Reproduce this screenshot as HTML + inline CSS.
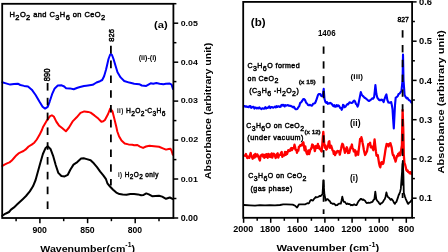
<!DOCTYPE html><html><head><meta charset="utf-8"><style>
html,body{margin:0;padding:0;background:#fff;width:448px;height:252px;overflow:hidden}
svg{display:block}
text{font-family:"Liberation Sans",Arial,sans-serif;fill:#000}
</style></head><body>
<svg width="448" height="252" viewBox="0 0 448 252">
<rect width="448" height="252" fill="#fff"/>
<g fill="none" stroke-width="2" stroke-linejoin="round" stroke-linecap="round">
<polyline stroke="#0000ff" points="2.3,82.3 5.1,83.1 10.2,84.6 14.0,84.0 17.8,83.7 20.3,85.0 24.1,85.9 28.0,86.5 31.8,89.7 35.6,95.0 39.4,101.5 42.6,106.7 45.1,108.6 47.7,106.9 49.6,101.8 52.1,94.2 54.7,88.4 57.8,85.5 61.7,85.3 64.2,86.5 66.1,88.2 69.9,88.4 73.7,89.3 77.5,87.8 80.0,87.0 84.0,86.0 86.3,85.7 92.7,84.8 96.5,82.5 100.0,81.2 102.2,80.0 104.1,76.2 106.0,69.8 106.9,66.0 108.5,59.0 110.0,55.0 110.9,54.0 112.0,55.0 113.5,59.0 115.6,66.0 117.5,72.3 120.6,77.4 124.2,81.0 129.3,82.6 134.2,83.7 139.2,84.2 141.8,85.5 146.2,85.9 150.7,83.3 153.2,83.7 156.4,83.0 159.6,83.7 163.4,84.2 165.9,83.7 169.7,83.5 171.6,84.6 173.0,89.0"/>
<polyline stroke="#ff0000" points="2.3,166.0 4.5,164.6 7.0,163.4 9.5,162.4 11.5,160.8 14.0,158.0 16.5,155.2 18.5,153.4 21.0,152.2 23.5,151.0 25.4,149.7 28.6,146.5 31.7,144.6 34.3,142.7 36.8,139.5 39.4,135.1 41.9,130.0 43.2,126.7 47.0,120.3 50.0,116.1 51.9,115.3 53.8,116.5 56.3,121.6 58.9,125.4 62.1,128.1 65.9,131.3 69.0,127.5 72.9,121.1 76.7,117.3 80.5,112.9 84.3,111.4 88.1,111.9 90.6,112.6 94.4,115.4 98.3,118.6 101.4,121.8 103.3,121.3 104.9,120.0 108.1,114.0 110.2,108.6 112.5,111.4 114.4,119.0 116.3,126.7 117.3,131.5 119.0,136.2 121.5,140.6 124.7,143.5 128.5,144.4 132.3,144.8 134.2,145.3 137.4,145.0 139.9,146.6 143.1,147.9 146.0,146.5 149.5,145.8 154.0,146.2 159.0,146.8 162.9,148.4 166.0,149.6 168.6,149.0 170.5,148.8 171.7,151.0 172.8,154.8"/>
<polyline stroke="#000" points="2.3,215.8 4.5,214.2 7.0,213.0 9.0,212.0 11.0,209.6 14.0,207.4 17.0,204.6 20.0,201.7 23.0,198.9 26.0,196.0 29.8,191.4 33.0,186.3 35.6,180.0 37.8,172.0 40.3,162.9 42.9,154.0 45.4,148.3 47.7,146.3 50.5,148.9 53.1,155.8 55.7,165.0 58.3,172.9 61.4,176.0 64.6,176.4 67.8,174.8 70.3,169.7 73.5,164.6 77.3,162.1 81.1,158.6 83.7,158.3 86.8,159.1 90.6,160.2 93.8,163.3 97.0,167.1 100.2,171.6 103.3,175.4 106.0,179.2 107.4,183.3 110.0,186.5 113.1,189.7 116.3,192.6 119.5,194.1 122.7,194.5 126.5,194.8 130.3,194.1 134.1,194.1 137.9,194.4 141.1,195.3 143.6,194.9 146.3,193.4 148.9,194.4 152.1,196.2 159.0,195.7 162.2,196.6 166.0,198.8 169.8,197.5 173.0,199.1"/>
</g>
<g stroke="#000" stroke-width="1.8">
<line x1="47.6" y1="83.0" x2="47.6" y2="90.6"/><line x1="47.6" y1="97.8" x2="47.6" y2="105.4"/><line x1="47.6" y1="112.6" x2="47.6" y2="120.2"/><line x1="47.6" y1="127.4" x2="47.6" y2="135.0"/><line x1="47.6" y1="142.2" x2="47.6" y2="149.8"/><line x1="47.6" y1="157.0" x2="47.6" y2="164.6"/><line x1="47.6" y1="171.8" x2="47.6" y2="179.4"/><line x1="47.6" y1="186.6" x2="47.6" y2="194.2"/><line x1="47.6" y1="201.4" x2="47.6" y2="209.0"/>
<line x1="110.9" y1="45.8" x2="110.9" y2="53.4"/><line x1="110.9" y1="60.6" x2="110.9" y2="68.2"/><line x1="110.9" y1="75.4" x2="110.9" y2="83.0"/><line x1="110.9" y1="90.2" x2="110.9" y2="97.8"/><line x1="110.9" y1="105.0" x2="110.9" y2="112.6"/><line x1="110.9" y1="119.8" x2="110.9" y2="127.4"/><line x1="110.9" y1="134.6" x2="110.9" y2="142.2"/><line x1="110.9" y1="149.4" x2="110.9" y2="157.0"/><line x1="110.9" y1="164.2" x2="110.9" y2="171.8"/><line x1="110.9" y1="179.0" x2="110.9" y2="185.5"/>
</g>
<g stroke="#000" stroke-width="1.8" fill="none">
<rect x="2.2" y="3.8" width="171.2" height="214.2"/>
<line x1="16.1" y1="218.0" x2="16.1" y2="221.2" stroke-width="1.5"/>
<line x1="39.9" y1="218.0" x2="39.9" y2="223.2" stroke-width="1.5"/>
<line x1="63.7" y1="218.0" x2="63.7" y2="221.2" stroke-width="1.5"/>
<line x1="87.6" y1="218.0" x2="87.6" y2="223.2" stroke-width="1.5"/>
<line x1="111.4" y1="218.0" x2="111.4" y2="221.2" stroke-width="1.5"/>
<line x1="135.2" y1="218.0" x2="135.2" y2="223.2" stroke-width="1.5"/>
<line x1="159.0" y1="218.0" x2="159.0" y2="221.2" stroke-width="1.5"/>
<line x1="173.4" y1="218.0" x2="178.2" y2="218.0" stroke-width="1.5"/>
<line x1="173.4" y1="198.5" x2="176.4" y2="198.5" stroke-width="1.5"/>
<line x1="173.4" y1="179.0" x2="178.2" y2="179.0" stroke-width="1.5"/>
<line x1="173.4" y1="159.6" x2="176.4" y2="159.6" stroke-width="1.5"/>
<line x1="173.4" y1="140.1" x2="178.2" y2="140.1" stroke-width="1.5"/>
<line x1="173.4" y1="120.6" x2="176.4" y2="120.6" stroke-width="1.5"/>
<line x1="173.4" y1="101.1" x2="178.2" y2="101.1" stroke-width="1.5"/>
<line x1="173.4" y1="81.6" x2="176.4" y2="81.6" stroke-width="1.5"/>
<line x1="173.4" y1="62.2" x2="178.2" y2="62.2" stroke-width="1.5"/>
<line x1="173.4" y1="42.7" x2="176.4" y2="42.7" stroke-width="1.5"/>
<line x1="173.4" y1="23.2" x2="178.2" y2="23.2" stroke-width="1.5"/>
<line x1="173.4" y1="3.7" x2="176.4" y2="3.7" stroke-width="1.5"/>
</g>
<g fill="none" stroke-width="1.8" stroke-linejoin="round" stroke-linecap="round">
<polyline stroke="#0000ff" stroke-width="2.1" points="244.0,106.5 244.8,106.0 245.6,106.7 246.4,106.4 247.2,107.0 248.0,106.8 248.8,107.2 249.6,106.0 250.4,106.0 251.2,107.9 252.0,107.3 252.8,106.8 253.6,106.8 254.4,108.6 255.2,107.5 256.0,107.6 256.8,108.5 257.6,107.8 258.4,108.3 259.2,107.3 260.0,108.2 260.8,108.5 261.5,109.1 262.2,108.4 263.0,108.4 263.8,108.8 264.6,108.5 265.4,107.1 266.2,108.5 267.0,107.8 267.8,107.9 268.6,107.1 269.4,106.4 270.2,108.1 271.0,107.2 271.8,107.0 272.6,107.4 273.4,107.7 274.2,107.2 275.0,106.6 275.8,107.4 276.6,106.2 277.4,107.0 278.2,106.2 279.0,106.2 279.8,107.0 280.6,106.8 281.4,105.0 282.2,104.9 283.0,105.6 283.8,104.9 284.7,106.5 285.5,105.2 286.4,105.6 287.2,105.2 287.9,105.0 288.6,105.6 289.3,105.5 290.0,106.0 290.8,105.8 291.5,106.5 292.3,106.6 293.0,107.4 293.8,106.7 294.6,107.9 295.5,109.3 296.3,109.2 297.3,109.0 298.3,107.3 299.2,106.2 300.2,102.9 301.1,102.3 302.1,101.0 303.1,99.3 304.0,99.0 305.2,100.3 306.1,102.7 307.1,103.5 308.0,105.0 308.8,105.3 309.7,104.8 310.5,105.2 311.4,105.7 312.2,105.4 313.1,103.8 314.1,103.5 315.1,103.0 316.0,101.0 316.9,98.3 317.9,95.2 318.7,94.1 319.5,94.0 320.3,94.0 321.1,95.9 322.0,96.3 322.8,95.2 323.7,88.9 324.5,99.0 325.4,102.0 326.2,102.9 327.0,102.1 327.8,103.9 328.6,103.2 329.4,103.5 330.2,102.9 331.1,103.4 331.9,104.1 332.7,105.3 333.5,106.2 334.3,105.0 335.1,106.7 335.9,106.6 336.7,105.0 337.5,106.2 338.3,105.4 339.1,105.9 340.0,107.9 340.8,107.9 341.7,109.8 342.4,108.4 343.0,104.8 343.8,105.4 344.7,107.2 345.5,106.7 346.3,105.5 347.1,104.2 347.9,104.5 348.7,103.5 349.5,102.3 350.2,102.5 351.0,102.8 351.7,103.0 352.5,102.6 353.3,101.4 354.2,100.7 355.0,101.3 355.9,103.9 356.7,104.5 357.6,106.7 358.2,105.2 358.9,101.6 359.9,96.8 360.8,92.1 361.8,94.9 362.7,95.9 363.6,96.6 364.6,97.8 365.6,98.3 366.5,99.0 367.3,99.7 368.2,100.6 369.0,101.0 369.8,100.6 370.6,99.8 371.4,99.3 372.2,98.4 373.1,98.7 374.1,97.1 374.8,91.1 375.4,85.1 376.4,94.0 377.3,97.6 378.2,98.9 379.2,100.2 380.0,99.8 380.9,100.2 381.7,99.5 382.6,100.2 383.6,102.1 384.6,98.8 385.5,96.3 386.4,94.4 387.4,100.2 388.4,102.5 389.3,102.7 390.2,102.4 391.2,102.1 391.9,105.5 392.5,109.0 393.1,118.8 393.8,128.5 395.0,105.2 395.7,97.6 396.6,97.1 397.6,96.3 398.6,94.0 399.5,93.8 400.4,92.4 401.4,91.3 402.0,85.7 402.6,80.0 403.0,54.5 403.5,80.0 404.6,95.1 405.6,96.9 406.5,98.3 407.4,97.8 408.4,99.5 409.4,100.4 410.3,100.8 411.0,102.0 411.6,102.7"/>
<polyline stroke="#ff0000" stroke-width="2.3" points="244.0,155.5 244.7,155.7 245.3,155.9 246.0,154.0 246.7,156.5 247.3,158.1 248.0,156.5 248.7,157.3 249.3,157.9 250.0,155.0 250.7,153.0 251.3,156.1 252.0,157.0 252.7,158.8 253.3,156.5 254.0,155.0 254.7,157.7 255.3,153.8 256.0,156.5 256.7,156.0 257.3,154.4 258.0,155.5 258.6,157.4 259.3,159.2 259.9,160.5 260.7,155.3 261.5,155.5 262.2,154.4 263.0,156.5 263.7,154.8 264.3,157.8 265.0,155.0 265.7,157.0 266.3,154.1 267.0,156.5 267.7,157.8 268.3,153.8 269.0,155.5 269.7,156.7 270.3,154.4 271.0,157.0 271.7,153.5 272.3,157.7 273.0,155.0 273.7,153.7 274.3,154.1 275.0,156.0 275.7,158.0 276.3,156.8 277.0,154.0 277.7,153.3 278.3,157.6 279.0,155.5 279.7,154.9 280.3,154.8 281.0,153.0 281.7,152.0 282.3,156.8 283.0,155.0 283.7,155.1 284.3,155.6 285.0,152.0 285.7,154.9 286.3,152.2 287.0,154.0 287.7,152.2 288.3,150.1 289.0,151.0 290.0,150.9 290.6,148.7 291.3,148.0 291.9,150.2 292.5,148.1 293.2,148.3 293.8,148.4 294.5,144.7 295.1,147.0 295.7,149.9 296.4,150.0 297.0,152.8 297.6,149.8 298.3,150.7 298.9,147.0 299.5,146.5 300.2,145.2 300.8,145.8 301.4,144.8 302.1,145.2 302.7,143.2 303.4,142.3 304.0,146.4 304.6,150.3 305.3,146.3 305.9,150.2 306.5,152.7 307.2,154.3 307.8,153.4 308.4,150.3 309.1,154.1 309.7,152.1 310.3,149.7 311.0,149.1 311.6,147.0 312.2,144.5 312.9,144.9 313.5,147.7 314.1,146.3 314.8,151.1 315.4,149.0 316.0,146.0 316.6,147.9 317.3,147.6 317.9,143.9 318.5,148.1 319.2,146.4 319.8,149.0 320.4,149.0 321.1,150.8 321.7,151.5 322.5,141.7 323.3,131.8 324.3,144.5 324.9,147.7 325.6,145.7 326.2,149.6 326.8,149.1 327.4,147.5 328.1,145.9 328.7,142.0 329.3,141.1 330.0,147.8 330.6,147.0 331.2,145.7 331.9,148.1 332.6,150.5 333.2,150.9 333.8,153.9 334.4,151.3 335.1,155.2 335.7,153.4 336.4,153.2 337.0,151.4 337.6,150.9 338.3,151.5 339.1,151.3 339.8,154.7 340.4,151.7 341.1,148.8 341.7,145.8 342.3,143.8 343.0,144.6 343.6,147.0 344.2,149.6 344.9,152.8 345.5,151.5 346.1,148.8 346.8,147.3 347.4,149.0 348.0,153.0 348.7,151.7 349.3,152.8 349.9,150.2 350.6,147.2 351.2,147.1 351.9,144.5 352.5,148.7 353.2,148.9 353.8,151.5 354.4,151.7 355.1,150.3 355.7,155.7 356.3,154.0 356.9,151.6 357.6,154.4 358.2,154.7 358.8,149.4 359.5,144.1 360.1,138.8 360.7,140.9 361.4,137.2 362.0,139.5 362.6,142.9 363.3,146.4 363.8,149.5 364.4,152.3 365.1,155.0 365.7,154.0 366.3,152.6 367.0,151.3 367.6,147.6 368.2,144.1 368.9,144.7 369.5,143.8 370.1,142.7 370.8,147.4 371.4,146.3 372.0,146.5 372.7,148.6 373.3,150.2 374.0,144.8 374.6,139.5 375.2,145.4 375.9,151.4 376.5,155.5 377.2,155.9 377.8,155.2 378.4,159.1 379.0,162.9 379.7,166.0 380.3,167.4 381.0,163.2 381.6,162.2 382.2,162.4 382.9,164.0 383.5,162.9 384.1,158.7 384.8,154.4 385.4,150.2 386.0,147.0 386.7,143.8 387.3,144.5 388.0,144.3 388.6,146.3 389.2,144.5 389.8,143.8 390.4,143.1 391.1,145.6 391.7,147.6 392.4,152.9 393.0,155.2 393.7,155.2 394.3,158.0 395.0,159.5 395.6,161.6 396.2,159.0 396.9,155.9 397.5,156.5 398.1,154.0 398.8,155.5 399.4,152.7 400.0,155.4 400.6,154.0 401.2,149.6 401.9,145.1 402.6,110.0 403.3,130.0 403.8,155.2 404.4,162.9 405.0,164.2 405.7,167.0 406.3,169.8 407.0,170.9 407.6,170.5 408.2,172.0 408.9,172.2 409.5,173.2 410.1,172.1 410.8,172.3 411.4,174.0"/>
<polyline stroke="#000" points="244.0,205.0 250.0,205.3 255.0,205.6 260.0,205.1 265.0,205.4 270.0,205.2 275.0,205.3 280.0,205.0 283.2,204.3 286.3,204.3 292.7,204.6 295.2,205.8 297.1,207.5 299.0,204.3 305.4,204.3 306.3,203.7 307.3,203.2 308.2,203.5 309.2,203.0 310.1,200.9 311.1,199.9 312.1,200.3 313.0,200.5 313.9,199.1 314.9,198.0 315.9,197.0 316.8,197.3 317.8,197.0 318.7,196.7 319.6,195.8 320.6,196.1 321.6,195.1 322.5,194.2 323.4,180.5 324.4,194.2 325.7,200.5 327.0,199.2 327.9,199.2 328.9,200.5 329.9,201.2 330.8,203.0 331.6,203.1 332.5,203.9 333.3,203.7 334.1,203.7 334.9,204.4 335.7,205.3 336.5,205.1 337.3,205.1 338.1,204.2 338.9,203.7 339.9,203.6 340.8,203.7 341.6,200.2 342.3,196.7 343.0,199.9 343.7,201.8 344.8,201.9 345.9,203.3 346.7,204.1 347.6,203.5 348.4,204.1 349.3,204.0 350.1,204.4 351.0,205.3 351.8,204.8 352.7,205.3 353.5,204.6 354.3,204.3 355.1,204.9 355.9,205.1 356.7,205.0 357.6,202.9 358.6,201.1 359.6,200.1 360.5,199.0 361.4,198.8 362.4,199.9 363.4,199.5 364.3,200.3 365.1,200.8 366.0,202.4 366.8,203.0 367.7,202.8 368.5,202.6 369.4,202.8 370.4,202.6 371.5,202.1 372.5,201.8 373.4,200.2 374.4,199.2 375.3,191.6 376.3,199.2 377.3,200.9 378.3,201.8 379.2,203.4 380.2,204.4 381.1,203.2 382.1,202.8 383.0,201.9 383.8,200.3 384.7,199.2 385.5,197.0 386.4,192.5 387.1,195.1 387.9,197.0 388.9,197.7 389.9,198.9 390.7,199.9 391.6,199.0 392.4,199.9 393.2,201.1 394.1,202.9 394.9,203.9 395.6,202.4 396.4,201.9 397.1,199.9 397.8,197.9 398.6,195.3 399.3,194.0 400.1,191.7 400.8,188.9 401.5,179.4 402.2,170.0 402.8,161.0 403.4,175.0 403.8,192.8 404.8,196.2 405.7,198.8 406.5,200.6 407.4,202.7 408.2,203.9 409.2,202.6 410.2,201.9 410.9,201.2 411.7,199.9"/>
</g>
<g stroke="#000" stroke-width="1.8">
<line x1="323.6" y1="46.5" x2="323.6" y2="53.8"/><line x1="323.6" y1="61.3" x2="323.6" y2="68.6"/><line x1="323.6" y1="76.1" x2="323.6" y2="83.4"/><line x1="323.6" y1="90.9" x2="323.6" y2="98.2"/><line x1="323.6" y1="105.7" x2="323.6" y2="113.0"/><line x1="323.6" y1="120.5" x2="323.6" y2="127.8"/><line x1="323.6" y1="135.3" x2="323.6" y2="142.6"/><line x1="323.6" y1="150.1" x2="323.6" y2="157.4"/><line x1="323.6" y1="164.9" x2="323.6" y2="172.2"/><line x1="323.6" y1="179.7" x2="323.6" y2="187.0"/><line x1="323.6" y1="194.5" x2="323.6" y2="201.8"/><line x1="323.6" y1="209.3" x2="323.6" y2="214.0"/>
<line x1="402.6" y1="30.2" x2="402.6" y2="37.6"/><line x1="402.6" y1="45.0" x2="402.6" y2="52.4"/><line x1="402.6" y1="59.8" x2="402.6" y2="67.2"/><line x1="402.6" y1="74.6" x2="402.6" y2="82.0"/><line x1="402.6" y1="89.4" x2="402.6" y2="96.8"/><line x1="402.6" y1="104.2" x2="402.6" y2="111.6"/><line x1="402.6" y1="119.0" x2="402.6" y2="126.4"/><line x1="402.6" y1="133.8" x2="402.6" y2="141.2"/><line x1="402.6" y1="148.6" x2="402.6" y2="156.0"/><line x1="402.6" y1="163.4" x2="402.6" y2="170.8"/><line x1="402.6" y1="178.2" x2="402.6" y2="185.6"/><line x1="402.6" y1="193.0" x2="402.6" y2="198.0"/>
</g>
<g stroke="#000" stroke-width="1.8" fill="none">
<rect x="243.2" y="1.9" width="168.9" height="215.9"/>
<line x1="243.6" y1="217.8" x2="243.6" y2="222.8" stroke-width="1.5"/>
<line x1="257.2" y1="217.8" x2="257.2" y2="220.8" stroke-width="1.5"/>
<line x1="270.7" y1="217.8" x2="270.7" y2="222.8" stroke-width="1.5"/>
<line x1="284.3" y1="217.8" x2="284.3" y2="220.8" stroke-width="1.5"/>
<line x1="297.8" y1="217.8" x2="297.8" y2="222.8" stroke-width="1.5"/>
<line x1="311.4" y1="217.8" x2="311.4" y2="220.8" stroke-width="1.5"/>
<line x1="324.9" y1="217.8" x2="324.9" y2="222.8" stroke-width="1.5"/>
<line x1="338.5" y1="217.8" x2="338.5" y2="220.8" stroke-width="1.5"/>
<line x1="352.1" y1="217.8" x2="352.1" y2="222.8" stroke-width="1.5"/>
<line x1="365.6" y1="217.8" x2="365.6" y2="220.8" stroke-width="1.5"/>
<line x1="379.2" y1="217.8" x2="379.2" y2="222.8" stroke-width="1.5"/>
<line x1="392.7" y1="217.8" x2="392.7" y2="220.8" stroke-width="1.5"/>
<line x1="406.3" y1="217.8" x2="406.3" y2="222.8" stroke-width="1.5"/>
<line x1="412.1" y1="217.8" x2="414.9" y2="217.8" stroke-width="1.5"/>
<line x1="412.1" y1="198.2" x2="416.6" y2="198.2" stroke-width="1.5"/>
<line x1="412.1" y1="178.6" x2="414.9" y2="178.6" stroke-width="1.5"/>
<line x1="412.1" y1="158.9" x2="416.6" y2="158.9" stroke-width="1.5"/>
<line x1="412.1" y1="139.3" x2="414.9" y2="139.3" stroke-width="1.5"/>
<line x1="412.1" y1="119.7" x2="416.6" y2="119.7" stroke-width="1.5"/>
<line x1="412.1" y1="100.0" x2="414.9" y2="100.0" stroke-width="1.5"/>
<line x1="412.1" y1="80.4" x2="416.6" y2="80.4" stroke-width="1.5"/>
<line x1="412.1" y1="60.8" x2="414.9" y2="60.8" stroke-width="1.5"/>
<line x1="412.1" y1="41.2" x2="416.6" y2="41.2" stroke-width="1.5"/>
<line x1="412.1" y1="21.5" x2="414.9" y2="21.5" stroke-width="1.5"/>
<line x1="412.1" y1="1.9" x2="416.6" y2="1.9" stroke-width="1.5"/>
</g>
<text font-size="8.0" stroke="#000" stroke-width="0.45" letter-spacing="0.45" transform="translate(9.46,16.69) scale(0.936,1.000)">H<tspan dy="3.2">2</tspan><tspan dy="-3.2">O</tspan><tspan dy="3.2">2</tspan><tspan dy="-3.2"> and C</tspan><tspan dy="3.2">3</tspan><tspan dy="-3.2">H</tspan><tspan dy="3.2">6</tspan><tspan dy="-3.2"> on CeO</tspan><tspan dy="3.2">2</tspan></text>
<text font-size="10" font-weight="bold" transform="translate(154.08,27.52) scale(1.117,0.850)">(a)</text>
<text font-size="6.8" font-weight="bold" transform="translate(138.68,59.70) scale(1.051,1.090)">(ii)-(i)</text>
<text font-size="7.3" stroke="#000" stroke-width="0.45" letter-spacing="0.45" transform="translate(116.89,113.07) scale(0.909,1.000)"><tspan font-weight="bold" stroke-width="0" font-size="0.95em">ii)</tspan> H<tspan dy="3.1">2</tspan><tspan dy="-3.1">O</tspan><tspan dy="3.1">2</tspan><tspan dy="-4.8" font-size="0.5em" font-weight="bold" stroke-width="0.2">+</tspan><tspan dy="1.7">C</tspan><tspan dy="3.1">3</tspan><tspan dy="-3.1">H</tspan><tspan dy="3.1">6</tspan></text>
<text font-size="7.2" stroke="#000" stroke-width="0.45" letter-spacing="0.45" transform="translate(117.91,176.50) scale(0.896,1.000)"><tspan font-weight="bold" stroke-width="0" font-size="0.95em">i)</tspan> H<tspan dy="2.6">2</tspan><tspan dy="-2.6">O</tspan><tspan dy="2.6">2</tspan><tspan dy="-2.6"> only</tspan></text>
<text font-size="8" stroke="#000" stroke-width="0.45" text-anchor="middle" transform="translate(114.07,35.49) rotate(-90) scale(0.952,1.002)">826</text>
<text font-size="8" stroke="#000" stroke-width="0.45" text-anchor="middle" transform="translate(49.65,74.94) rotate(-90) scale(0.951,1.065)">890</text>
<text font-size="8.7" font-weight="bold" transform="translate(180.65,220.65) scale(1.027,0.938)">0.00</text>
<text font-size="8.7" font-weight="bold" transform="translate(180.65,181.70) scale(1.017,0.901)">0.01</text>
<text font-size="8.7" font-weight="bold" transform="translate(180.64,142.38) scale(1.033,0.930)">0.02</text>
<text font-size="8.7" font-weight="bold" transform="translate(180.65,103.48) scale(1.026,0.930)">0.03</text>
<text font-size="8.7" font-weight="bold" transform="translate(180.67,64.77) scale(1.013,0.928)">0.04</text>
<text font-size="8.7" font-weight="bold" transform="translate(180.66,25.77) scale(1.013,0.902)">0.05</text>
<text font-size="8.7" font-weight="bold" text-anchor="middle" transform="translate(39.66,232.66) scale(1.003,0.973)">900</text>
<text font-size="8.7" font-weight="bold" text-anchor="middle" transform="translate(87.37,232.70) scale(0.998,0.951)">850</text>
<text font-size="8.7" font-weight="bold" text-anchor="middle" transform="translate(134.92,232.70) scale(0.990,0.966)">800</text>
<text font-size="9.8" font-weight="bold" transform="translate(40.32,251.70) scale(1.083,1.000)">Wavenumber(cm<tspan font-size="0.65em" dy="-4.3">-1</tspan><tspan dy="4.3">)</tspan></text>
<text font-size="9.8" font-weight="bold" text-anchor="middle" transform="translate(210.90,111.01) rotate(-90) scale(1.080,0.850)">Absorbance (arbitrary unit)</text>
<text font-size="10.5" font-weight="bold" transform="translate(250.83,25.68) scale(1.100,1.091)">(b)</text>
<text font-size="7.8" font-weight="bold" transform="translate(317.90,36.26) scale(1.020,1.051)">1406</text>
<text font-size="7.8" stroke="#000" stroke-width="0.45" transform="translate(397.38,22.02) scale(0.874,1.021)">827</text>
<text font-size="7.4" stroke="#000" stroke-width="0.45" letter-spacing="0.45" transform="translate(247.43,67.82) scale(0.955,1.000)">C<tspan dy="2.7">3</tspan><tspan dy="-2.7">H</tspan><tspan dy="2.7">6</tspan><tspan dy="-2.7">O formed</tspan></text>
<text font-size="7.6" stroke="#000" stroke-width="0.45" letter-spacing="0.45" transform="translate(247.55,80.52) scale(0.929,1.000)">on CeO<tspan dy="2.5">2</tspan></text>
<text font-size="7.3" stroke="#000" stroke-width="0.45" letter-spacing="0.45" transform="translate(249.13,93.33) scale(0.959,1.000)">(C<tspan dy="2.7">3</tspan><tspan dy="-2.7">H</tspan><tspan dy="2.7">6</tspan><tspan dy="-2.7"> </tspan><tspan dy="-1.6" font-size="0.5em" font-weight="bold" stroke-width="0.2">+</tspan><tspan dy="1.6">H</tspan><tspan dy="2.7">2</tspan><tspan dy="-2.7">O</tspan><tspan dy="2.7">2</tspan><tspan dy="-2.7">)</tspan></text>
<text font-size="6.5" font-weight="bold" stroke="#000" stroke-width="0.3" transform="translate(298.66,84.40) scale(1.006,0.866)">(x 15)</text>
<text font-size="7.4" stroke="#000" stroke-width="0.45" letter-spacing="0.45" transform="translate(246.23,127.52) scale(0.936,1.000)">C<tspan dy="3.0">3</tspan><tspan dy="-3.0">H</tspan><tspan dy="3.0">6</tspan><tspan dy="-3.0">O on CeO</tspan><tspan dy="3.0">2</tspan></text>
<text font-size="6.5" font-weight="bold" stroke="#000" stroke-width="0.3" transform="translate(304.53,133.81) scale(0.953,0.851)">(x 12)</text>
<text font-size="7.4" stroke="#000" stroke-width="0.45" letter-spacing="0.45" transform="translate(247.30,140.33) scale(0.974,1.000)">(under vacuum)</text>
<text font-size="7.6" stroke="#000" stroke-width="0.45" letter-spacing="0.45" transform="translate(248.28,178.44) scale(0.920,1.000)">C<tspan dy="2.6">3</tspan><tspan dy="-2.6">H</tspan><tspan dy="2.6">6</tspan><tspan dy="-2.6">O on CeO</tspan><tspan dy="2.6">2</tspan></text>
<text font-size="7.6" stroke="#000" stroke-width="0.45" letter-spacing="0.45" transform="translate(250.48,191.13) scale(0.939,1.000)">(gas phase)</text>
<text font-size="7.6" font-weight="bold" transform="translate(350.61,78.53) scale(1.085,1.005)">(iii)</text>
<text font-size="7.6" font-weight="bold" transform="translate(349.93,126.31) scale(1.142,1.126)">(ii)</text>
<text font-size="7.6" font-weight="bold" transform="translate(350.00,181.03) scale(1.106,1.132)">(i)</text>
<text font-size="9.2" font-weight="bold" transform="translate(419.03,201.41) scale(1.022,1.013)">0.1</text>
<text font-size="9.2" font-weight="bold" transform="translate(419.03,161.83) scale(1.027,1.024)">0.2</text>
<text font-size="9.2" font-weight="bold" transform="translate(419.03,122.64) scale(1.029,1.024)">0.3</text>
<text font-size="9.2" font-weight="bold" transform="translate(419.04,83.63) scale(1.001,1.013)">0.4</text>
<text font-size="9.2" font-weight="bold" transform="translate(419.04,44.28) scale(1.019,1.012)">0.5</text>
<text font-size="9.2" font-weight="bold" transform="translate(419.04,5.02) scale(1.019,1.012)">0.6</text>
<text font-size="9.2" font-weight="bold" text-anchor="middle" transform="translate(243.21,231.55) scale(0.981,0.968)">2000</text>
<text font-size="9.2" font-weight="bold" text-anchor="middle" transform="translate(270.21,231.55) scale(1.000,0.960)">1800</text>
<text font-size="9.2" font-weight="bold" text-anchor="middle" transform="translate(297.30,231.55) scale(1.004,0.963)">1600</text>
<text font-size="9.2" font-weight="bold" text-anchor="middle" transform="translate(324.42,231.55) scale(1.010,0.958)">1400</text>
<text font-size="9.2" font-weight="bold" text-anchor="middle" transform="translate(351.47,231.55) scale(1.000,0.964)">1200</text>
<text font-size="9.2" font-weight="bold" text-anchor="middle" transform="translate(378.64,231.55) scale(1.007,0.967)">1000</text>
<text font-size="9.2" font-weight="bold" text-anchor="middle" transform="translate(406.34,231.55) scale(1.042,0.964)">800</text>
<text font-size="9.8" font-weight="bold" transform="translate(276.42,251.11) scale(1.139,1.000)">Wavenumber (cm<tspan font-size="0.65em" dy="-4.3">-1</tspan><tspan dy="4.3">)</tspan></text>
<text font-size="10.2" font-weight="bold" text-anchor="middle" transform="translate(443.70,101.85) rotate(-90) scale(1.092,0.973)">Absorbance (arbitrary unit)</text>
</svg></body></html>
